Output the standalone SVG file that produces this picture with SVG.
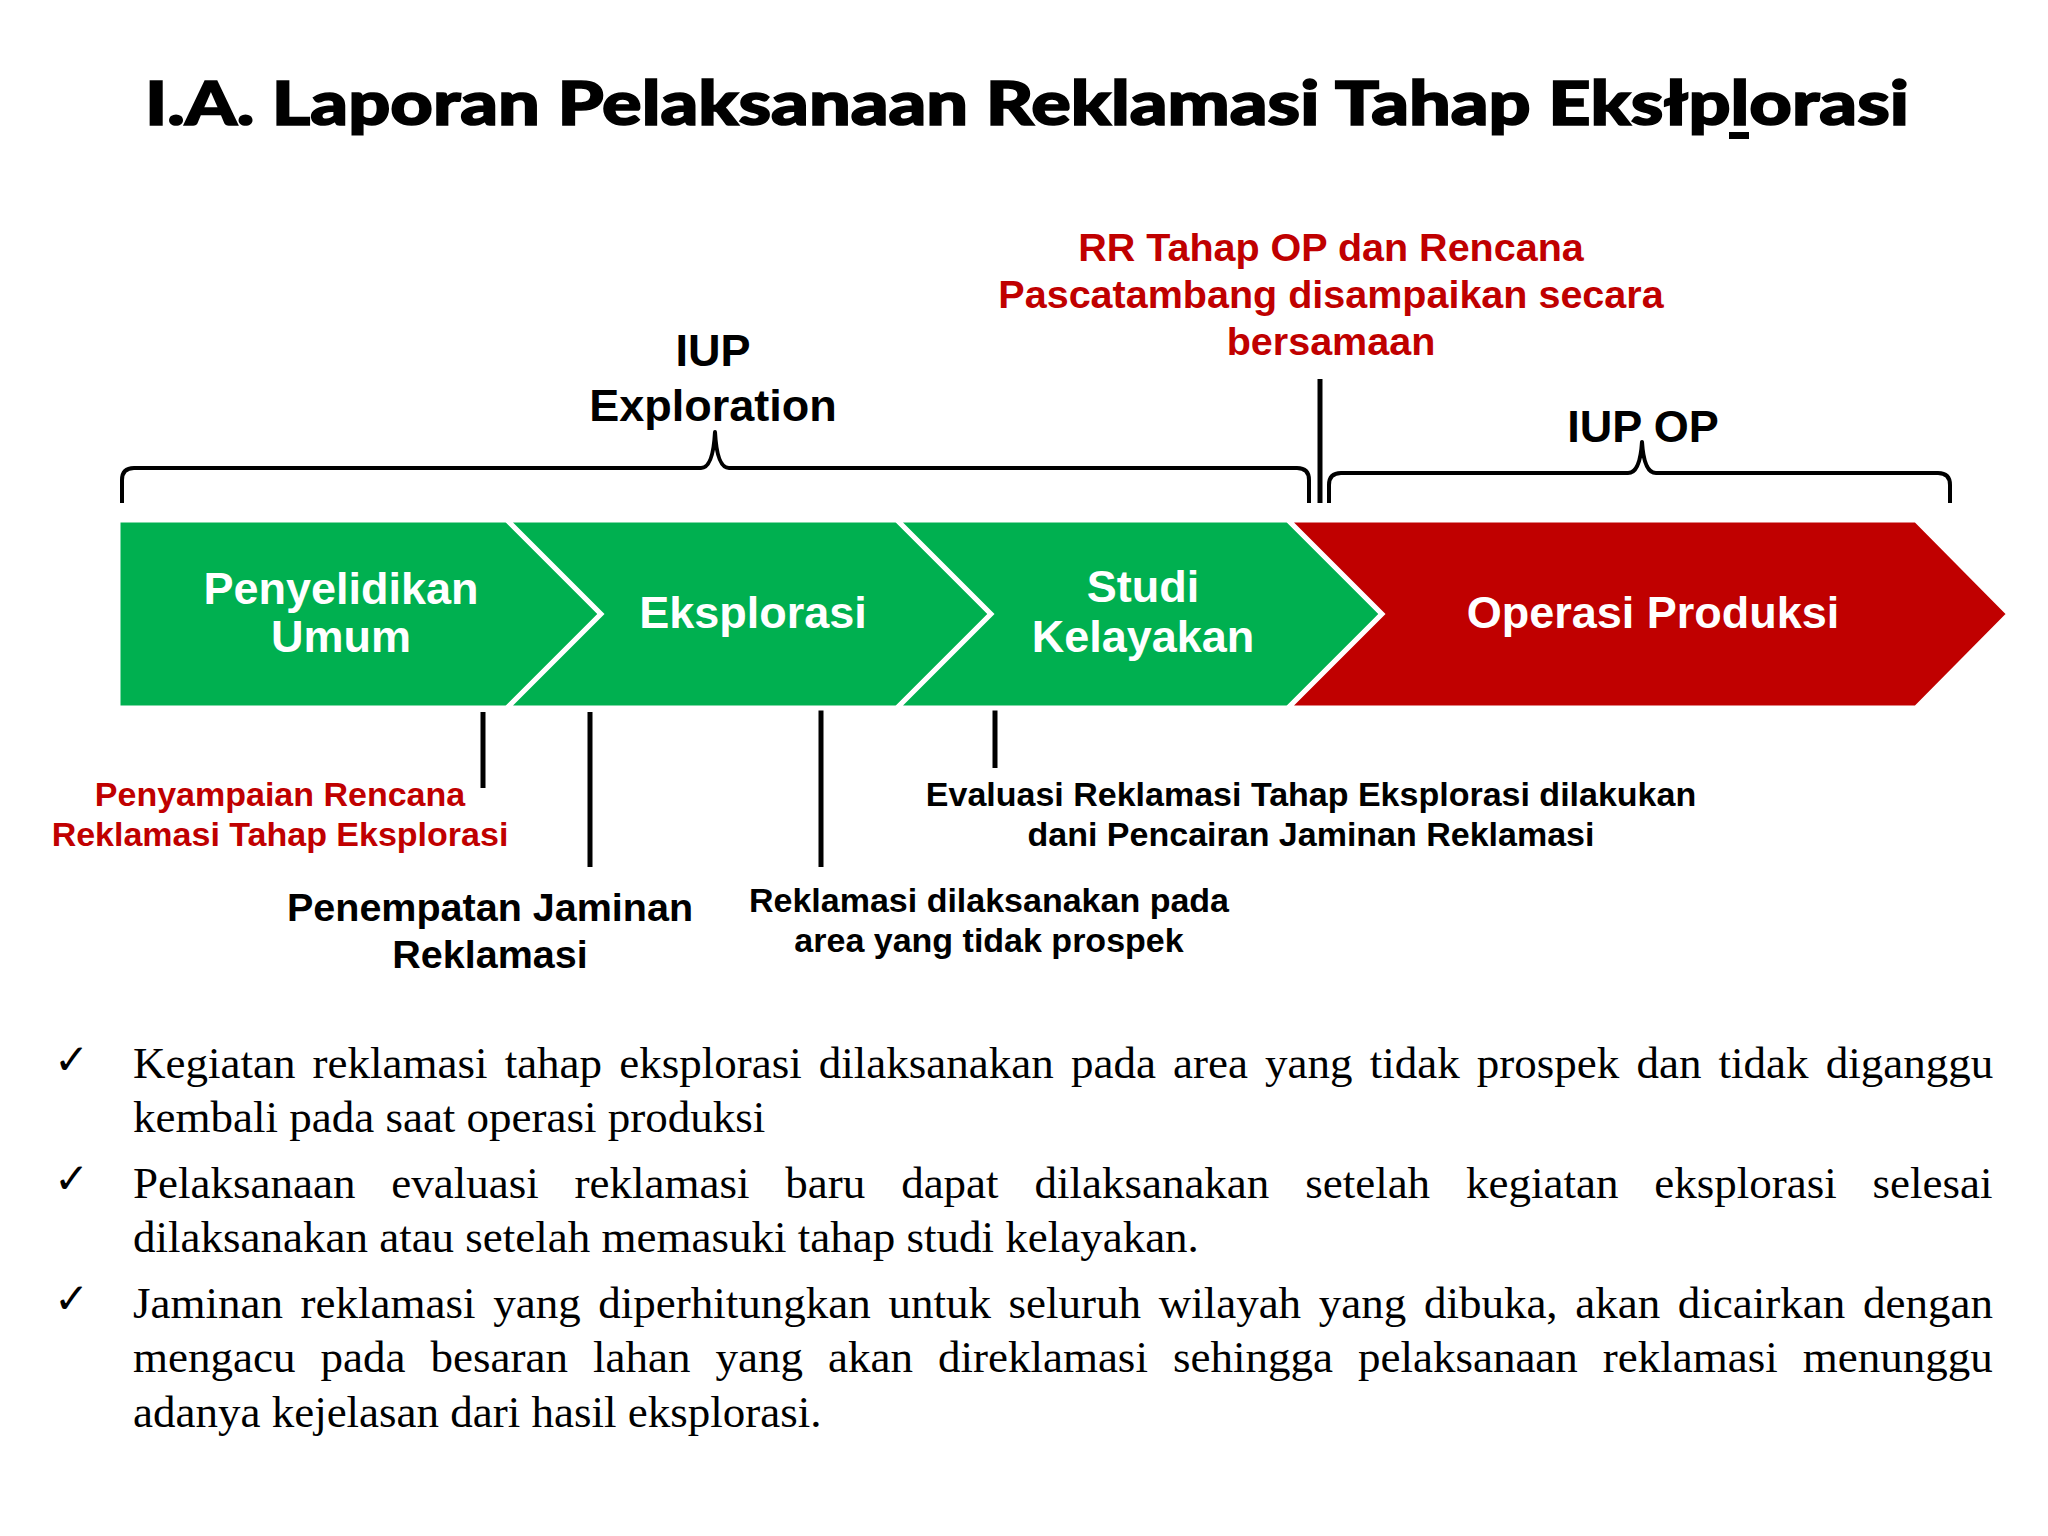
<svg xmlns="http://www.w3.org/2000/svg" width="2048" height="1536" viewBox="0 0 2048 1536">
<style>
.sans{font-family:"Liberation Sans",Arial,sans-serif;font-weight:bold}
.white{fill:#ffffff}
.red{fill:#C00000}
.blk{fill:#000000}
.mid{text-anchor:middle}
.body{font-family:"Liberation Serif","Times New Roman",serif;font-size:45px;fill:#000}
.chk{font-family:"DejaVu Sans",sans-serif;font-size:42px;fill:#000}
.tick{stroke:#000;stroke-width:5;fill:none}
.brace{stroke:#000;stroke-width:4;fill:none;stroke-linejoin:round}
.chev{stroke:#fff;stroke-width:5;stroke-linejoin:miter}
</style>
<rect width="2048" height="1536" fill="#ffffff"/>
<g id="title">
<text x="145" y="125" font-family="Lato,'Liberation Sans',sans-serif" font-weight="900" font-size="61" textLength="1764" lengthAdjust="spacingAndGlyphs" fill="#000" stroke="#000" stroke-width="1.6">I.A. Laporan Pelaksanaan Reklamasi Tahap Eksłplorasi</text>
<rect x="1729" y="132" width="20" height="7" fill="#000"/>
</g>
<g id="connectors">
<path class="brace" d="M122,503 L122,480 Q122,468 134,468 L701,468 Q713,468 715,432 Q717,468 729,468 L1297,468 Q1309,468 1309,480 L1309,503"/>
<path class="brace" d="M1329,503 L1329,485 Q1329,473 1341,473 L1628,473 Q1640,473 1642,442 Q1644,473 1656,473 L1938,473 Q1950,473 1950,485 L1950,503"/>
<line class="tick" x1="1320" y1="379" x2="1320" y2="503"/>
<line class="tick" x1="483" y1="712" x2="483" y2="788"/>
<line class="tick" x1="590" y1="712" x2="590" y2="867"/>
<line class="tick" x1="821" y1="705" x2="821" y2="867"/>
<line class="tick" x1="995" y1="705" x2="995" y2="768"/>
</g>
<g id="iup-exploration">
<text class="sans blk mid" x="713" y="366" font-size="45">IUP</text>
<text class="sans blk mid" x="713" y="421" font-size="45">Exploration</text>
</g>
<g id="iup-op">
<text class="sans blk mid" x="1643" y="442" font-size="45">IUP OP</text>
</g>
<g id="rr-note">
<text class="sans red mid" x="1331" y="261" font-size="39.5">RR Tahap OP dan Rencana</text>
<text class="sans red mid" x="1331" y="308" font-size="39.5">Pascatambang disampaikan secara</text>
<text class="sans red mid" x="1331" y="355" font-size="39.5">bersamaan</text>
</g>
<g id="penyelidikan-umum">
<polygon class="chev" points="118,520 507,520 601,614 507,708 118,708" fill="#00B050"/>
<text class="sans white mid" x="341" y="604" font-size="45">Penyelidikan</text>
<text class="sans white mid" x="341" y="652" font-size="45">Umum</text>
</g>
<g id="eksplorasi">
<polygon class="chev" points="507,520 897,520 991,614 897,708 507,708 601,614" fill="#00B050"/>
<text class="sans white mid" x="753" y="628" font-size="45">Eksplorasi</text>
</g>
<g id="studi-kelayakan">
<polygon class="chev" points="897,520 1288,520 1382,614 1288,708 897,708 991,614" fill="#00B050"/>
<text class="sans white mid" x="1143" y="602" font-size="45">Studi</text>
<text class="sans white mid" x="1143" y="652" font-size="45">Kelayakan</text>
</g>
<g id="operasi-produksi">
<polygon class="chev" points="1288,520 1916,520 2009,614 1916,708 1288,708 1382,614" fill="#C00000"/>
<text class="sans white mid" x="1653" y="628" font-size="45">Operasi Produksi</text>
</g>
<g id="penyampaian">
<text class="sans red mid" x="280" y="806" font-size="34">Penyampaian Rencana</text>
<text class="sans red mid" x="280" y="846" font-size="34">Reklamasi Tahap Eksplorasi</text>
</g>
<g id="penempatan">
<text class="sans blk mid" x="490" y="921" font-size="39.5">Penempatan Jaminan</text>
<text class="sans blk mid" x="490" y="968" font-size="39.5">Reklamasi</text>
</g>
<g id="reklamasi-dilaksanakan">
<text class="sans blk mid" x="989" y="912" font-size="34">Reklamasi dilaksanakan pada</text>
<text class="sans blk mid" x="989" y="952" font-size="34">area yang tidak prospek</text>
</g>
<g id="evaluasi">
<text class="sans blk mid" x="1311" y="806" font-size="34">Evaluasi Reklamasi Tahap Eksplorasi dilakukan</text>
<text class="sans blk mid" x="1311" y="846" font-size="34">dani Pencairan Jaminan Reklamasi</text>
</g>
<g id="bullets">
<text class="chk" x="54" y="1074">✓</text>
<text class="chk" x="54" y="1193">✓</text>
<text class="chk" x="54" y="1313">✓</text>
<text class="body" x="133" y="1078" word-spacing="5.9">Kegiatan reklamasi tahap eksplorasi dilaksanakan pada area yang tidak prospek dan tidak diganggu</text>
<text class="body" x="133" y="1132">kembali pada saat operasi produksi</text>
<text class="body" x="133" y="1198" word-spacing="24.6">Pelaksanaan evaluasi reklamasi baru dapat dilaksanakan setelah kegiatan eksplorasi selesai</text>
<text class="body" x="133" y="1252">dilaksanakan atau setelah memasuki tahap studi kelayakan.</text>
<text class="body" x="133" y="1318" word-spacing="6.4">Jaminan reklamasi yang diperhitungkan untuk seluruh wilayah yang dibuka, akan dicairkan dengan</text>
<text class="body" x="133" y="1372" word-spacing="13.8">mengacu pada besaran lahan yang akan direklamasi sehingga pelaksanaan reklamasi menunggu</text>
<text class="body" x="133" y="1427">adanya kejelasan dari hasil eksplorasi.</text>
</g>
</svg>
